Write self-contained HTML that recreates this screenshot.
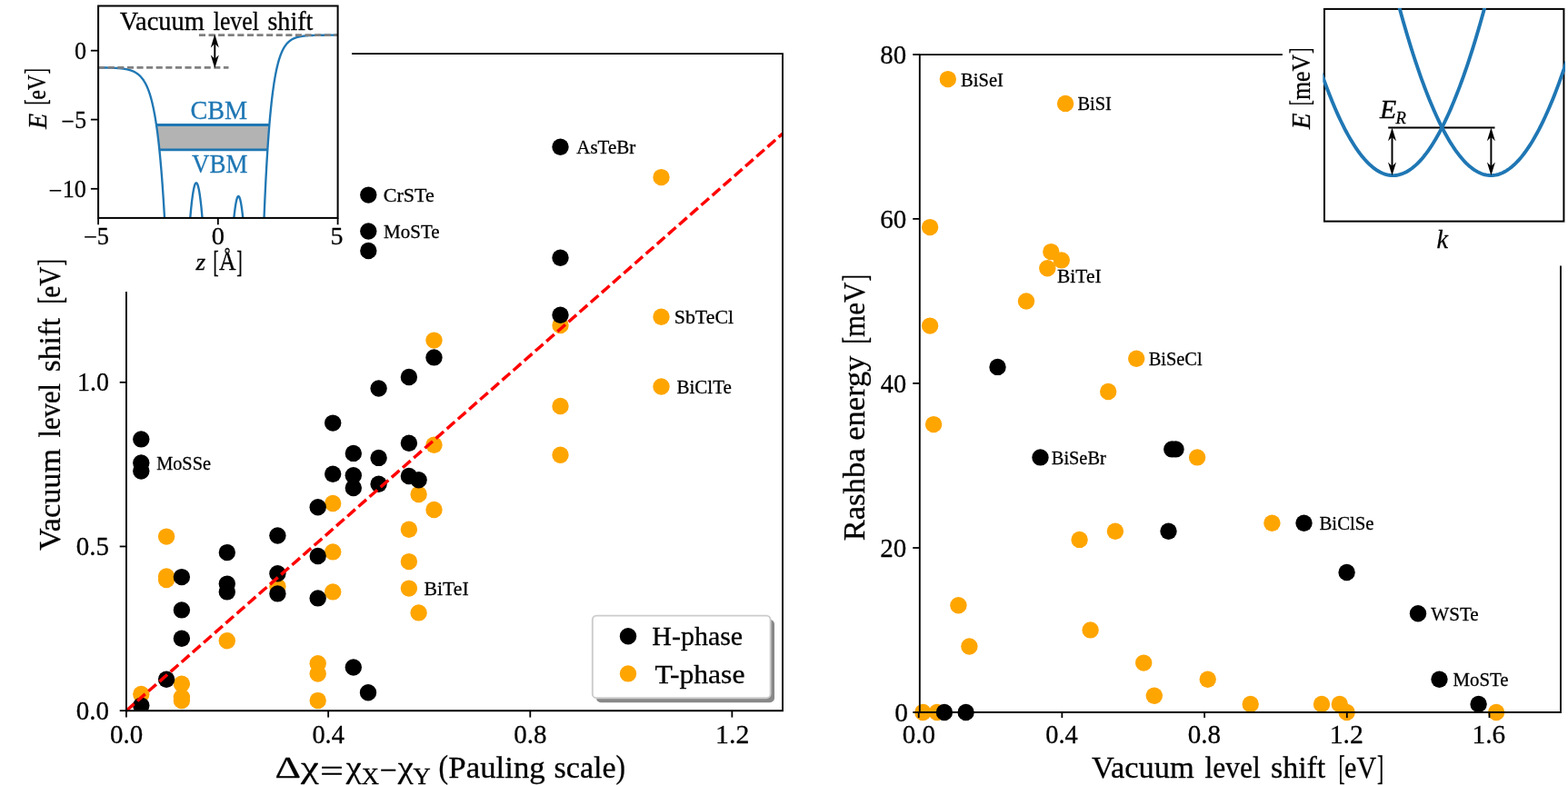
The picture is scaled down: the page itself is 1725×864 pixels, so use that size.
<!DOCTYPE html>
<html lang="en"><head><meta charset="utf-8"><title>Vacuum level shift and Rashba energy</title>
<style>
html,body{margin:0;padding:0;background:#fff;overflow:hidden}
svg{display:block}
text{font-family:"Liberation Serif", "DejaVu Serif", serif;stroke:#000;stroke-width:0.3px;stroke-linejoin:round}
</style></head>
<body>
<svg width="1725" height="864" viewBox="0 0 1725 864" role="img" aria-label="Vacuum level shift versus electronegativity difference, and Rashba energy versus vacuum level shift">
<rect width="1725" height="864" fill="#fff"/>
<clipPath id="cl"><rect x="138.95" y="59.15" width="722.05" height="723.05"/></clipPath>
<g clip-path="url(#cl)">
<g fill="#ffa500"><circle cx="155.3" cy="764.0" r="9.20"/><circle cx="183.1" cy="590.6" r="9.20"/><circle cx="183.1" cy="634.5" r="9.20"/><circle cx="183.1" cy="638.0" r="9.20"/><circle cx="199.9" cy="752.8" r="9.20"/><circle cx="199.9" cy="767.5" r="9.20"/><circle cx="199.9" cy="771.0" r="9.20"/><circle cx="249.8" cy="705.2" r="9.20"/><circle cx="305.4" cy="645.6" r="9.20"/><circle cx="349.7" cy="730.2" r="9.20"/><circle cx="349.7" cy="741.5" r="9.20"/><circle cx="349.7" cy="771.1" r="9.20"/><circle cx="366.2" cy="554.0" r="9.20"/><circle cx="366.2" cy="607.4" r="9.20"/><circle cx="366.2" cy="651.4" r="9.20"/><circle cx="449.9" cy="582.8" r="9.20"/><circle cx="449.9" cy="618.1" r="9.20"/><circle cx="449.9" cy="647.6" r="9.20"/><circle cx="460.6" cy="544.0" r="9.20"/><circle cx="460.6" cy="674.4" r="9.20"/><circle cx="477.5" cy="374.6" r="9.20"/><circle cx="477.5" cy="489.8" r="9.20"/><circle cx="477.5" cy="561.0" r="9.20"/><circle cx="616.5" cy="358.1" r="9.20"/><circle cx="616.5" cy="447.0" r="9.20"/><circle cx="616.5" cy="500.8" r="9.20"/><circle cx="727.5" cy="195.1" r="9.20"/><circle cx="727.5" cy="348.8" r="9.20"/><circle cx="727.5" cy="425.5" r="9.20"/></g>
<g fill="#000"><circle cx="155.3" cy="483.4" r="9.20"/><circle cx="155.3" cy="509.4" r="9.20"/><circle cx="155.3" cy="518.5" r="9.20"/><circle cx="155.3" cy="776.6" r="9.20"/><circle cx="183.1" cy="747.8" r="9.20"/><circle cx="199.9" cy="635.1" r="9.20"/><circle cx="199.9" cy="671.4" r="9.20"/><circle cx="199.9" cy="702.7" r="9.20"/><circle cx="249.8" cy="608.1" r="9.20"/><circle cx="249.8" cy="642.6" r="9.20"/><circle cx="249.8" cy="651.4" r="9.20"/><circle cx="305.4" cy="589.5" r="9.20"/><circle cx="305.4" cy="631.3" r="9.20"/><circle cx="305.4" cy="653.4" r="9.20"/><circle cx="349.7" cy="558.3" r="9.20"/><circle cx="349.7" cy="612.0" r="9.20"/><circle cx="349.7" cy="658.4" r="9.20"/><circle cx="366.2" cy="465.6" r="9.20"/><circle cx="366.2" cy="521.7" r="9.20"/><circle cx="388.8" cy="498.9" r="9.20"/><circle cx="388.8" cy="523.2" r="9.20"/><circle cx="388.8" cy="537.0" r="9.20"/><circle cx="388.8" cy="734.5" r="9.20"/><circle cx="405.3" cy="214.6" r="9.20"/><circle cx="405.3" cy="254.5" r="9.20"/><circle cx="405.3" cy="276.0" r="9.20"/><circle cx="405.0" cy="762.3" r="9.20"/><circle cx="416.6" cy="427.5" r="9.20"/><circle cx="416.6" cy="503.9" r="9.20"/><circle cx="416.6" cy="532.7" r="9.20"/><circle cx="449.9" cy="415.0" r="9.20"/><circle cx="449.9" cy="487.7" r="9.20"/><circle cx="449.9" cy="524.0" r="9.20"/><circle cx="460.6" cy="528.2" r="9.20"/><circle cx="477.5" cy="393.4" r="9.20"/><circle cx="616.5" cy="161.8" r="9.20"/><circle cx="616.5" cy="283.8" r="9.20"/><circle cx="616.5" cy="346.8" r="9.20"/></g>
</g>
<line x1="138.95" y1="782.20" x2="861.00" y2="147.00" stroke="#ff0000" stroke-width="3.45" stroke-dasharray="11.5 4.7" />
<path d="M138.95 321.00 V782.20 H861.00 V59.15 H387.00" fill="none" stroke="#000" stroke-width="1.85" stroke-linejoin="miter" stroke-linecap="butt"/>
<line x1="138.95" y1="782.20" x2="138.95" y2="789.60" stroke="#000" stroke-width="1.80"/>
<line x1="361.15" y1="782.20" x2="361.15" y2="789.60" stroke="#000" stroke-width="1.80"/>
<line x1="583.30" y1="782.20" x2="583.30" y2="789.60" stroke="#000" stroke-width="1.80"/>
<line x1="805.35" y1="782.20" x2="805.35" y2="789.60" stroke="#000" stroke-width="1.80"/>
<line x1="131.70" y1="782.20" x2="138.95" y2="782.20" stroke="#000" stroke-width="1.80"/>
<line x1="131.70" y1="601.45" x2="138.95" y2="601.45" stroke="#000" stroke-width="1.80"/>
<line x1="131.70" y1="420.80" x2="138.95" y2="420.80" stroke="#000" stroke-width="1.80"/>
<rect x="656.0" y="682.0" width="196.0" height="91.2" rx="5" fill="#888"/>
<rect x="651.8" y="677.6" width="195.8" height="90.6" rx="4.5" fill="#fff" stroke="#ccc" stroke-width="1.9"/>
<circle cx="691" cy="700.3" r="9.20" fill="#000"/>
<circle cx="691" cy="741.4" r="9.20" fill="#ffa500"/>
<rect x="108.10" y="6.50" width="263.50" height="233.40" fill="#fff"/>
<clipPath id="ci"><rect x="108.10" y="6.50" width="263.50" height="233.40"/></clipPath>
<g clip-path="url(#ci)">
<path d="M172.01 137.50 L172.37 139.98 L172.71 142.46 L173.05 144.95 L173.37 147.43 L173.68 149.91 L173.99 152.39 L174.28 154.87 L174.56 157.35 L174.84 159.84 L175.11 162.32 L175.37 164.80 L294.35 164.80 L294.51 162.32 L294.68 159.84 L294.85 157.35 L295.02 154.87 L295.20 152.39 L295.38 149.91 L295.56 147.43 L295.75 144.95 L295.95 142.46 L296.14 139.98 L296.35 137.50Z" fill="#b3b3b3"/>
<path d="M108.10 74.35 L108.10 74.42 L108.30 74.42 L108.49 74.42 L108.69 74.42 L108.88 74.42 L109.08 74.43 L109.27 74.43 L109.47 74.43 L109.66 74.43 L109.86 74.43 L110.05 74.43 L110.25 74.44 L110.44 74.44 L110.64 74.44 L110.83 74.44 L111.03 74.44 L111.22 74.44 L111.42 74.45 L111.61 74.45 L111.81 74.45 L112.00 74.45 L112.20 74.46 L112.40 74.46 L112.59 74.46 L112.79 74.46 L112.98 74.46 L113.18 74.47 L113.37 74.47 L113.57 74.47 L113.76 74.47 L113.96 74.48 L114.15 74.48 L114.35 74.48 L114.54 74.49 L114.74 74.49 L114.93 74.49 L115.13 74.49 L115.32 74.50 L115.52 74.50 L115.71 74.50 L115.91 74.51 L116.10 74.51 L116.30 74.51 L116.50 74.52 L116.69 74.52 L116.89 74.52 L117.08 74.53 L117.28 74.53 L117.47 74.53 L117.67 74.54 L117.86 74.54 L118.06 74.55 L118.25 74.55 L118.45 74.56 L118.64 74.56 L118.84 74.56 L119.03 74.57 L119.23 74.57 L119.42 74.58 L119.62 74.58 L119.81 74.59 L120.01 74.59 L120.20 74.60 L120.40 74.60 L120.60 74.61 L120.79 74.61 L120.99 74.62 L121.18 74.62 L121.38 74.63 L121.57 74.64 L121.77 74.64 L121.96 74.65 L122.16 74.66 L122.35 74.66 L122.55 74.67 L122.74 74.67 L122.94 74.68 L123.13 74.69 L123.33 74.70 L123.52 74.70 L123.72 74.71 L123.91 74.72 L124.11 74.73 L124.30 74.73 L124.50 74.74 L124.70 74.75 L124.89 74.76 L125.09 74.77 L125.28 74.78 L125.48 74.79 L125.67 74.79 L125.87 74.80 L126.06 74.81 L126.26 74.82 L126.45 74.83 L126.65 74.84 L126.84 74.85 L127.04 74.86 L127.23 74.88 L127.43 74.89 L127.62 74.90 L127.82 74.91 L128.01 74.92 L128.21 74.93 L128.40 74.95 L128.60 74.96 L128.80 74.97 L128.99 74.98 L129.19 75.00 L129.38 75.01 L129.58 75.02 L129.77 75.04 L129.97 75.05 L130.16 75.07 L130.36 75.08 L130.55 75.10 L130.75 75.11 L130.94 75.13 L131.14 75.15 L131.33 75.16 L131.53 75.18 L131.72 75.20 L131.92 75.22 L132.11 75.24 L132.31 75.25 L132.50 75.27 L132.70 75.29 L132.90 75.31 L133.09 75.33 L133.29 75.35 L133.48 75.37 L133.68 75.40 L133.87 75.42 L134.07 75.44 L134.26 75.46 L134.46 75.49 L134.65 75.51 L134.85 75.54 L135.04 75.56 L135.24 75.59 L135.43 75.61 L135.63 75.64 L135.82 75.67 L136.02 75.69 L136.21 75.72 L136.41 75.75 L136.60 75.78 L136.80 75.81 L137.00 75.84 L137.19 75.87 L137.39 75.91 L137.58 75.94 L137.78 75.97 L137.97 76.01 L138.17 76.04 L138.36 76.08 L138.56 76.11 L138.75 76.15 L138.95 76.19 L139.14 76.23 L139.34 76.27 L139.53 76.31 L139.73 76.35 L139.92 76.39 L140.12 76.43 L140.31 76.48 L140.51 76.52 L140.70 76.57 L140.90 76.62 L141.10 76.66 L141.29 76.71 L141.49 76.76 L141.68 76.81 L141.88 76.86 L142.07 76.92 L142.27 76.97 L142.46 77.03 L142.66 77.08 L142.85 77.14 L143.05 77.20 L143.24 77.26 L143.44 77.32 L143.63 77.38 L143.83 77.45 L144.02 77.51 L144.22 77.58 L144.41 77.65 L144.61 77.72 L144.80 77.79 L145.00 77.86 L145.20 77.94 L145.39 78.01 L145.59 78.09 L145.78 78.17 L145.98 78.25 L146.17 78.33 L146.37 78.42 L146.56 78.50 L146.76 78.59 L146.95 78.68 L147.15 78.77 L147.34 78.86 L147.54 78.96 L147.73 79.06 L147.93 79.16 L148.12 79.26 L148.32 79.36 L148.51 79.47 L148.71 79.57 L148.90 79.68 L149.10 79.80 L149.30 79.91 L149.49 80.03 L149.69 80.15 L149.88 80.27 L150.08 80.40 L150.27 80.52 L150.47 80.65 L150.66 80.79 L150.86 80.92 L151.05 81.06 L151.25 81.20 L151.44 81.35 L151.64 81.50 L151.83 81.65 L152.03 81.80 L152.22 81.96 L152.42 82.12 L152.61 82.28 L152.81 82.45 L153.00 82.62 L153.20 82.80 L153.40 82.97 L153.59 83.16 L153.79 83.34 L153.98 83.53 L154.18 83.72 L154.37 83.92 L154.57 84.12 L154.76 84.33 L154.96 84.54 L155.15 84.76 L155.35 84.98 L155.54 85.20 L155.74 85.43 L155.93 85.66 L156.13 85.90 L156.32 86.15 L156.52 86.40 L156.71 86.65 L156.91 86.91 L157.10 87.17 L157.30 87.44 L157.50 87.72 L157.69 88.00 L157.89 88.29 L158.08 88.59 L158.28 88.89 L158.47 89.19 L158.67 89.51 L158.86 89.83 L159.06 90.15 L159.25 90.49 L159.45 90.83 L159.64 91.17 L159.84 91.53 L160.03 91.89 L160.23 92.26 L160.42 92.64 L160.62 93.03 L160.81 93.42 L161.01 93.82 L161.20 94.23 L161.40 94.65 L161.60 95.08 L161.79 95.52 L161.99 95.97 L162.18 96.42 L162.38 96.89 L162.57 97.36 L162.77 97.85 L162.96 98.35 L163.16 98.85 L163.35 99.37 L163.55 99.90 L163.74 100.44 L163.94 100.99 L164.13 101.55 L164.33 102.12 L164.52 102.71 L164.72 103.31 L164.91 103.92 L165.11 104.54 L165.30 105.18 L165.50 105.83 L165.70 106.50 L165.89 107.17 L166.09 107.87 L166.28 108.57 L166.48 109.30 L166.67 110.03 L166.87 110.79 L167.06 111.56 L167.26 112.34 L167.45 113.14 L167.65 113.96 L167.84 114.80 L168.04 115.65 L168.23 116.52 L168.43 117.41 L168.62 118.32 L168.82 119.25 L169.01 120.20 L169.21 121.17 L169.40 122.15 L169.60 123.16 L169.80 124.19 L169.99 125.25 L170.19 126.32 L170.38 127.42 L170.58 128.54 L170.77 129.68 L170.97 130.85 L171.16 132.04 L171.36 133.26 L171.55 134.50 L171.75 135.77 L171.94 137.07 L172.14 138.39 L172.33 139.74 L172.53 141.12 L172.72 142.53 L172.92 143.97 L173.11 145.44 L173.31 146.94 L173.50 148.47 L173.70 150.04 L173.90 151.64 L174.09 153.27 L174.29 154.93 L174.48 156.63 L174.68 158.37 L174.87 160.14 L175.07 161.95 L175.26 163.80 L175.46 165.69 L175.65 167.62 L175.85 169.59 L176.04 171.60 L176.24 173.65 L176.43 175.75 L176.63 177.89 L176.82 180.07 L177.02 182.30 L177.21 184.58 L177.41 186.91 L177.60 189.28 L177.80 191.71 L178.00 194.18 L178.19 196.71 L178.39 199.30 L178.58 201.93 L178.78 204.63 L178.97 207.38 L179.17 210.18 L179.36 213.05 L179.56 215.98 L179.75 218.97 L179.95 222.02 L180.14 225.14 L180.34 228.32 L180.53 231.57 L180.73 234.89 L180.92 238.27 L181.12 241.73 L181.31 245.27 L181.51 248.87 L181.70 252.56 L181.90 256.32" fill="none" stroke="#1f77b4" stroke-width="2.35" stroke-linejoin="round"/>
<path d="M289.93 255.08 L290.15 249.35 L290.37 243.78 L290.59 238.35 L290.81 233.07 L291.03 227.93 L291.25 222.92 L291.46 218.05 L291.68 213.31 L291.90 208.69 L292.12 204.19 L292.34 199.81 L292.56 195.55 L292.78 191.40 L293.00 187.36 L293.22 183.43 L293.44 179.60 L293.66 175.87 L293.88 172.24 L294.10 168.71 L294.32 165.27 L294.54 161.92 L294.76 158.66 L294.98 155.48 L295.20 152.39 L295.42 149.38 L295.64 146.46 L295.86 143.60 L296.08 140.83 L296.29 138.13 L296.51 135.50 L296.73 132.93 L296.95 130.44 L297.17 128.01 L297.39 125.65 L297.61 123.35 L297.83 121.11 L298.05 118.93 L298.27 116.80 L298.49 114.74 L298.71 112.72 L298.93 110.77 L299.15 108.86 L299.37 107.00 L299.59 105.19 L299.81 103.43 L300.03 101.72 L300.25 100.05 L300.47 98.43 L300.69 96.85 L300.91 95.31 L301.12 93.81 L301.34 92.35 L301.56 90.93 L301.78 89.55 L302.00 88.20 L302.22 86.89 L302.44 85.61 L302.66 84.37 L302.88 83.16 L303.10 81.99 L303.32 80.84 L303.54 79.72 L303.76 78.64 L303.98 77.58 L304.20 76.55 L304.42 75.55 L304.64 74.57 L304.86 73.62 L305.08 72.70 L305.30 71.80 L305.52 70.92 L305.74 70.07 L305.95 69.24 L306.17 68.43 L306.39 67.64 L306.61 66.87 L306.83 66.13 L307.05 65.40 L307.27 64.69 L307.49 64.00 L307.71 63.33 L307.93 62.68 L308.15 62.04 L308.37 61.43 L308.59 60.82 L308.81 60.24 L309.03 59.67 L309.25 59.11 L309.47 58.57 L309.69 58.04 L309.91 57.53 L310.13 57.03 L310.35 56.54 L310.57 56.07 L310.78 55.61 L311.00 55.16 L311.22 54.72 L311.44 54.30 L311.66 53.89 L311.88 53.48 L312.10 53.09 L312.32 52.71 L312.54 52.34 L312.76 51.97 L312.98 51.62 L313.20 51.28 L313.42 50.94 L313.64 50.62 L313.86 50.30 L314.08 49.99 L314.30 49.69 L314.52 49.40 L314.74 49.12 L314.96 48.84 L315.18 48.57 L315.40 48.31 L315.62 48.05 L315.83 47.81 L316.05 47.56 L316.27 47.33 L316.49 47.10 L316.71 46.87 L316.93 46.66 L317.15 46.45 L317.37 46.24 L317.59 46.04 L317.81 45.84 L318.03 45.65 L318.25 45.47 L318.47 45.29 L318.69 45.11 L318.91 44.94 L319.13 44.77 L319.35 44.61 L319.57 44.45 L319.79 44.30 L320.01 44.15 L320.23 44.01 L320.45 43.86 L320.66 43.73 L320.88 43.59 L321.10 43.46 L321.32 43.33 L321.54 43.21 L321.76 43.09 L321.98 42.97 L322.20 42.86 L322.42 42.75 L322.64 42.64 L322.86 42.53 L323.08 42.43 L323.30 42.33 L323.52 42.23 L323.74 42.14 L323.96 42.05 L324.18 41.96 L324.40 41.87 L324.62 41.78 L324.84 41.70 L325.06 41.62 L325.28 41.54 L325.49 41.46 L325.71 41.39 L325.93 41.32 L326.15 41.25 L326.37 41.18 L326.59 41.11 L326.81 41.05 L327.03 40.98 L327.25 40.92 L327.47 40.86 L327.69 40.80 L327.91 40.75 L328.13 40.69 L328.35 40.64 L328.57 40.58 L328.79 40.53 L329.01 40.48 L329.23 40.43 L329.45 40.39 L329.67 40.34 L329.89 40.30 L330.11 40.25 L330.32 40.21 L330.54 40.17 L330.76 40.13 L330.98 40.09 L331.20 40.05 L331.42 40.02 L331.64 39.98 L331.86 39.94 L332.08 39.91 L332.30 39.88 L332.52 39.84 L332.74 39.81 L332.96 39.78 L333.18 39.75 L333.40 39.72 L333.62 39.69 L333.84 39.67 L334.06 39.64 L334.28 39.61 L334.50 39.59 L334.72 39.56 L334.94 39.54 L335.15 39.52 L335.37 39.49 L335.59 39.47 L335.81 39.45 L336.03 39.43 L336.25 39.41 L336.47 39.39 L336.69 39.37 L336.91 39.35 L337.13 39.33 L337.35 39.31 L337.57 39.29 L337.79 39.28 L338.01 39.26 L338.23 39.24 L338.45 39.23 L338.67 39.21 L338.89 39.20 L339.11 39.18 L339.33 39.17 L339.55 39.16 L339.77 39.14 L339.98 39.13 L340.20 39.12 L340.42 39.10 L340.64 39.09 L340.86 39.08 L341.08 39.07 L341.30 39.06 L341.52 39.05 L341.74 39.04 L341.96 39.03 L342.18 39.02 L342.40 39.01 L342.62 39.00 L342.84 38.99 L343.06 38.98 L343.28 38.97 L343.50 38.96 L343.72 38.95 L343.94 38.95 L344.16 38.94 L344.38 38.93 L344.60 38.92 L344.82 38.92 L345.03 38.91 L345.25 38.90 L345.47 38.90 L345.69 38.89 L345.91 38.88 L346.13 38.88 L346.35 38.87 L346.57 38.86 L346.79 38.86 L347.01 38.85 L347.23 38.85 L347.45 38.84 L347.67 38.84 L347.89 38.83 L348.11 38.83 L348.33 38.82 L348.55 38.82 L348.77 38.81 L348.99 38.81 L349.21 38.81 L349.43 38.80 L349.65 38.80 L349.86 38.79 L350.08 38.79 L350.30 38.79 L350.52 38.78 L350.74 38.78 L350.96 38.78 L351.18 38.77 L351.40 38.77 L351.62 38.77 L351.84 38.76 L352.06 38.76 L352.28 38.76 L352.50 38.75 L352.72 38.75 L352.94 38.75 L353.16 38.75 L353.38 38.74 L353.60 38.74 L353.82 38.74 L354.04 38.74 L354.26 38.73 L354.48 38.73 L354.69 38.73 L354.91 38.73 L355.13 38.73 L355.35 38.72 L355.57 38.72 L355.79 38.72 L356.01 38.72 L356.23 38.72 L356.45 38.71 L356.67 38.71 L356.89 38.71 L357.11 38.71 L357.33 38.71 L357.55 38.71 L357.77 38.70 L357.99 38.70 L358.21 38.70 L358.43 38.70 L358.65 38.70 L358.87 38.70 L359.09 38.70 L359.31 38.70 L359.52 38.69 L359.74 38.69 L359.96 38.69 L360.18 38.69 L360.40 38.69 L360.62 38.69 L360.84 38.69 L361.06 38.69 L361.28 38.69 L361.50 38.68 L361.72 38.68 L361.94 38.68 L362.16 38.68 L362.38 38.68 L362.60 38.68 L362.82 38.68 L363.04 38.68 L363.26 38.68 L363.48 38.68 L363.70 38.68 L363.92 38.68 L364.14 38.68 L364.35 38.67 L364.57 38.67 L364.79 38.67 L365.01 38.67 L365.23 38.67 L365.45 38.67 L365.67 38.67 L365.89 38.67 L366.11 38.67 L366.33 38.67 L366.55 38.67 L366.77 38.67 L366.99 38.67 L367.21 38.67 L367.43 38.67 L367.65 38.67 L367.87 38.67 L368.09 38.67 L368.31 38.67 L368.53 38.66 L368.75 38.66 L368.97 38.66 L369.18 38.66 L369.40 38.66 L369.62 38.66 L369.84 38.66 L370.06 38.66 L370.28 38.66 L370.50 38.66 L370.72 38.66 L370.94 38.66 L371.16 38.66 L371.38 38.66 L371.60 38.66 L371.60 38.65" fill="none" stroke="#1f77b4" stroke-width="2.35" stroke-linejoin="round"/>
<path d="M209.00 242.78 L209.23 240.08 L209.46 237.46 L209.69 234.94 L209.92 232.51 L210.14 230.17 L210.37 227.92 L210.60 225.76 L210.83 223.69 L211.06 221.72 L211.29 219.83 L211.52 218.04 L211.75 216.34 L211.97 214.73 L212.20 213.21 L212.43 211.78 L212.66 210.44 L212.89 209.20 L213.12 208.04 L213.35 206.98 L213.58 206.00 L213.81 205.12 L214.03 204.33 L214.26 203.64 L214.49 203.03 L214.72 202.51 L214.95 202.09 L215.18 201.75 L215.41 201.51 L215.64 201.36 L215.86 201.30 L216.09 201.33 L216.32 201.46 L216.55 201.67 L216.78 201.97 L217.01 202.37 L217.24 202.86 L217.47 203.44 L217.69 204.11 L217.92 204.87 L218.15 205.72 L218.38 206.66 L218.61 207.70 L218.84 208.83 L219.07 210.04 L219.30 211.35 L219.53 212.75 L219.75 214.24 L219.98 215.83 L220.21 217.50 L220.44 219.26 L220.67 221.12 L220.90 223.07 L221.13 225.11 L221.36 227.24 L221.58 229.46 L221.81 231.77 L222.04 234.17 L222.27 236.67 L222.50 239.26" fill="none" stroke="#1f77b4" stroke-width="2.35" stroke-linejoin="round"/>
<path d="M257.20 241.50 L257.37 239.81 L257.54 238.19 L257.71 236.62 L257.88 235.11 L258.06 233.66 L258.23 232.26 L258.40 230.92 L258.57 229.64 L258.74 228.42 L258.91 227.25 L259.08 226.14 L259.25 225.09 L259.43 224.10 L259.60 223.16 L259.77 222.29 L259.94 221.46 L260.11 220.70 L260.28 219.99 L260.45 219.35 L260.62 218.75 L260.79 218.22 L260.97 217.74 L261.14 217.33 L261.31 216.96 L261.48 216.66 L261.65 216.41 L261.82 216.22 L261.99 216.09 L262.16 216.02 L262.34 216.00 L262.51 216.04 L262.68 216.14 L262.85 216.30 L263.02 216.51 L263.19 216.78 L263.36 217.11 L263.53 217.49 L263.71 217.94 L263.88 218.44 L264.05 218.99 L264.22 219.61 L264.39 220.28 L264.56 221.01 L264.73 221.80 L264.90 222.64 L265.07 223.55 L265.25 224.51 L265.42 225.52 L265.59 226.60 L265.76 227.73 L265.93 228.92 L266.10 230.17 L266.27 231.47 L266.44 232.83 L266.62 234.25 L266.79 235.73 L266.96 237.27 L267.13 238.86 L267.30 240.51" fill="none" stroke="#1f77b4" stroke-width="2.35" stroke-linejoin="round"/>
<line x1="171.71" y1="137.50" x2="296.65" y2="137.50" stroke="#1f77b4" stroke-width="2.80"/>
<line x1="175.07" y1="164.80" x2="294.65" y2="164.80" stroke="#1f77b4" stroke-width="2.80"/>
<line x1="108.10" y1="74.35" x2="251.5" y2="74.35" stroke="#808080" stroke-width="2.8" stroke-dasharray="7.1 3.5"/>
<line x1="218.9" y1="38.6" x2="371.60" y2="38.6" stroke="#808080" stroke-width="2.8" stroke-dasharray="7.1 3.5"/>
</g>
<line x1="236.30" y1="47.50" x2="236.30" y2="65.30" stroke="#000" stroke-width="1.95"/><path d="M236.30 37.60 L240.80 52.40 L236.30 48.00 L231.80 52.40 Z" fill="#000"/><path d="M236.30 75.20 L240.80 60.40 L236.30 64.80 L231.80 60.40 Z" fill="#000"/>
<rect x="108.10" y="6.50" width="263.50" height="233.40" fill="none" stroke="#000" stroke-width="2.00"/>
<line x1="108.10" y1="239.90" x2="108.10" y2="247.30" stroke="#000" stroke-width="1.80"/>
<line x1="239.85" y1="239.90" x2="239.85" y2="247.30" stroke="#000" stroke-width="1.80"/>
<line x1="371.60" y1="239.90" x2="371.60" y2="247.30" stroke="#000" stroke-width="1.80"/>
<line x1="99.90" y1="55.70" x2="108.10" y2="55.70" stroke="#000" stroke-width="1.80"/>
<line x1="99.90" y1="131.60" x2="108.10" y2="131.60" stroke="#000" stroke-width="1.80"/>
<line x1="99.90" y1="207.80" x2="108.10" y2="207.80" stroke="#000" stroke-width="1.80"/>
<g fill="#ffa500"><circle cx="1042.8" cy="87.1" r="9.20"/><circle cx="1172.1" cy="113.9" r="9.20"/><circle cx="1023.1" cy="250.1" r="9.20"/><circle cx="1156.3" cy="277.1" r="9.20"/><circle cx="1167.8" cy="286.4" r="9.20"/><circle cx="1152.3" cy="295.2" r="9.20"/><circle cx="1129.0" cy="331.5" r="9.20"/><circle cx="1023.1" cy="358.6" r="9.20"/><circle cx="1250.2" cy="394.8" r="9.20"/><circle cx="1219.2" cy="431.0" r="9.20"/><circle cx="1027.1" cy="467.1" r="9.20"/><circle cx="1317.1" cy="503.4" r="9.20"/><circle cx="1187.6" cy="593.9" r="9.20"/><circle cx="1226.9" cy="584.8" r="9.20"/><circle cx="1399.4" cy="575.8" r="9.20"/><circle cx="1054.4" cy="666.3" r="9.20"/><circle cx="1066.4" cy="711.5" r="9.20"/><circle cx="1199.6" cy="693.4" r="9.20"/><circle cx="1258.2" cy="729.6" r="9.20"/><circle cx="1269.8" cy="765.8" r="9.20"/><circle cx="1328.7" cy="747.7" r="9.20"/><circle cx="1375.7" cy="774.9" r="9.20"/><circle cx="1454.0" cy="774.9" r="9.20"/><circle cx="1473.8" cy="774.9" r="9.20"/><circle cx="1481.6" cy="784.0" r="9.20"/><circle cx="1646.1" cy="784.0" r="9.20"/><circle cx="1015.3" cy="784.0" r="9.20"/><circle cx="1030.8" cy="784.0" r="9.20"/></g>
<g fill="#000"><circle cx="1097.5" cy="403.9" r="9.20"/><circle cx="1144.5" cy="503.4" r="9.20"/><circle cx="1289.3" cy="494.4" r="9.20"/><circle cx="1293.5" cy="494.4" r="9.20"/><circle cx="1285.5" cy="584.8" r="9.20"/><circle cx="1434.5" cy="575.8" r="9.20"/><circle cx="1481.6" cy="630.0" r="9.20"/><circle cx="1560.0" cy="675.3" r="9.20"/><circle cx="1583.5" cy="747.7" r="9.20"/><circle cx="1626.6" cy="774.9" r="9.20"/><circle cx="1038.9" cy="784.0" r="9.20"/><circle cx="1062.6" cy="784.0" r="9.20"/></g>
<path d="M1410.90 60.05 H1011.80 V784.00 H1716.95 V292.60" fill="none" stroke="#000" stroke-width="1.85" stroke-linecap="butt"/>
<line x1="1010.70" y1="784.00" x2="1010.70" y2="790.10" stroke="#000" stroke-width="1.80"/>
<line x1="1168.35" y1="784.00" x2="1168.35" y2="790.10" stroke="#000" stroke-width="1.80"/>
<line x1="1325.10" y1="784.00" x2="1325.10" y2="790.10" stroke="#000" stroke-width="1.80"/>
<line x1="1481.80" y1="784.00" x2="1481.80" y2="790.10" stroke="#000" stroke-width="1.80"/>
<line x1="1638.50" y1="784.00" x2="1638.50" y2="790.10" stroke="#000" stroke-width="1.80"/>
<line x1="1004.20" y1="60.05" x2="1011.80" y2="60.05" stroke="#000" stroke-width="1.80"/>
<line x1="1004.20" y1="240.90" x2="1011.80" y2="240.90" stroke="#000" stroke-width="1.80"/>
<line x1="1004.20" y1="421.90" x2="1011.80" y2="421.90" stroke="#000" stroke-width="1.80"/>
<line x1="1004.20" y1="603.00" x2="1011.80" y2="603.00" stroke="#000" stroke-width="1.80"/>
<line x1="1004.20" y1="784.00" x2="1011.80" y2="784.00" stroke="#000" stroke-width="1.80"/>
<rect x="1456.95" y="9.90" width="263.45" height="233.70" fill="#fff"/>
<clipPath id="cj"><rect x="1455.35" y="9.00" width="266.65" height="235.50"/></clipPath>
<line x1="1527.20" y1="140.50" x2="1644.50" y2="140.50" stroke="#000" stroke-width="2.00"/>
<rect x="1456.95" y="9.90" width="263.45" height="233.70" fill="none" stroke="#000" stroke-width="2.00"/>
<g clip-path="url(#cj)">
<path d="M1453.95 80.93 L1455.64 85.72 L1457.34 90.40 L1459.03 94.98 L1460.73 99.45 L1462.42 103.82 L1464.12 108.09 L1465.81 112.25 L1467.51 116.31 L1469.20 120.26 L1470.90 124.11 L1472.59 127.85 L1474.29 131.49 L1475.98 135.02 L1477.68 138.46 L1479.37 141.78 L1481.06 145.00 L1482.76 148.12 L1484.45 151.13 L1486.15 154.04 L1487.84 156.84 L1489.54 159.54 L1491.23 162.14 L1492.93 164.63 L1494.62 167.02 L1496.32 169.30 L1498.01 171.48 L1499.71 173.55 L1501.40 175.52 L1503.09 177.38 L1504.79 179.14 L1506.48 180.80 L1508.18 182.35 L1509.87 183.79 L1511.57 185.13 L1513.26 186.37 L1514.96 187.51 L1516.65 188.53 L1518.35 189.46 L1520.04 190.28 L1521.74 190.99 L1523.43 191.60 L1525.13 192.11 L1526.82 192.51 L1528.51 192.81 L1530.21 193.00 L1531.90 193.09 L1533.60 193.08 L1535.29 192.96 L1536.99 192.73 L1538.68 192.41 L1540.38 191.97 L1542.07 191.43 L1543.77 190.79 L1545.46 190.05 L1547.16 189.19 L1548.85 188.24 L1550.55 187.18 L1552.24 186.02 L1553.93 184.75 L1555.63 183.37 L1557.32 181.90 L1559.02 180.32 L1560.71 178.63 L1562.41 176.84 L1564.10 174.94 L1565.80 172.94 L1567.49 170.84 L1569.19 168.63 L1570.88 166.32 L1572.58 163.90 L1574.27 161.38 L1575.97 158.75 L1577.66 156.02 L1579.35 153.19 L1581.05 150.25 L1582.74 147.21 L1584.44 144.06 L1586.13 140.81 L1587.83 137.45 L1589.52 133.99 L1591.22 130.42 L1592.91 126.75 L1594.61 122.98 L1596.30 119.10 L1598.00 115.11 L1599.69 111.03 L1601.38 106.83 L1603.08 102.54 L1604.77 98.14 L1606.47 93.63 L1608.16 89.02 L1609.86 84.31 L1611.55 79.49 L1613.25 74.56 L1614.94 69.54 L1616.64 64.40 L1618.33 59.17 L1620.03 53.83 L1621.72 48.38 L1623.42 42.83 L1625.11 37.18 L1626.80 31.42 L1628.50 25.56 L1630.19 19.59 L1631.89 13.52 L1633.58 7.34 L1635.28 1.06 L1636.97 -5.33 L1638.67 -11.82 L1640.36 -18.41 L1642.06 -25.11 L1643.75 -31.91 L1645.45 -38.82 L1647.14 -45.83 L1648.84 -52.95 L1650.53 -60.17 L1652.22 -67.49 L1653.92 -74.92 L1655.61 -82.45 L1657.31 -90.09 L1659.00 -97.84 L1660.70 -105.68 L1662.39 -113.63 L1664.09 -121.69 L1665.78 -129.85 L1667.48 -138.11 L1669.17 -146.48 L1670.87 -154.96 L1672.56 -163.54 L1674.26 -172.22 L1675.95 -181.00 L1677.64 -189.90 L1679.34 -198.89 L1681.03 -207.99 L1682.73 -217.20 L1684.42 -226.51 L1686.12 -235.92 L1687.81 -245.44 L1689.51 -255.06 L1691.20 -264.78 L1692.90 -274.62 L1694.59 -284.55 L1696.29 -294.59 L1697.98 -304.74 L1699.67 -314.98 L1701.37 -325.34 L1703.06 -335.79 L1704.76 -346.36 L1706.45 -357.02 L1708.15 -367.79 L1709.84 -378.67 L1711.54 -389.65 L1713.23 -400.73 L1714.93 -411.92 L1716.62 -423.21 L1718.32 -434.61 L1720.01 -446.11 L1721.71 -457.72 L1723.40 -469.43" fill="none" stroke="#1f77b4" stroke-width="3.9"/>
<path d="M1453.95 -438.22 L1455.64 -426.79 L1457.34 -415.47 L1459.03 -404.25 L1460.73 -393.13 L1462.42 -382.12 L1464.12 -371.21 L1465.81 -360.41 L1467.51 -349.71 L1469.20 -339.11 L1470.90 -328.62 L1472.59 -318.24 L1474.29 -307.95 L1475.98 -297.78 L1477.68 -287.70 L1479.37 -277.74 L1481.06 -267.87 L1482.76 -258.11 L1484.45 -248.46 L1486.15 -238.91 L1487.84 -229.46 L1489.54 -220.12 L1491.23 -210.88 L1492.93 -201.75 L1494.62 -192.72 L1496.32 -183.79 L1498.01 -174.98 L1499.71 -166.26 L1501.40 -157.65 L1503.09 -149.14 L1504.79 -140.74 L1506.48 -132.44 L1508.18 -124.25 L1509.87 -116.16 L1511.57 -108.18 L1513.26 -100.30 L1514.96 -92.52 L1516.65 -84.85 L1518.35 -77.28 L1520.04 -69.82 L1521.74 -62.46 L1523.43 -55.21 L1525.13 -48.06 L1526.82 -41.02 L1528.51 -34.08 L1530.21 -27.24 L1531.90 -20.51 L1533.60 -13.88 L1535.29 -7.36 L1536.99 -0.94 L1538.68 5.37 L1540.38 11.58 L1542.07 17.69 L1543.77 23.69 L1545.46 29.58 L1547.16 35.37 L1548.85 41.06 L1550.55 46.64 L1552.24 52.12 L1553.93 57.50 L1555.63 62.77 L1557.32 67.93 L1559.02 72.99 L1560.71 77.95 L1562.41 82.80 L1564.10 87.55 L1565.80 92.19 L1567.49 96.73 L1569.19 101.16 L1570.88 105.49 L1572.58 109.72 L1574.27 113.84 L1575.97 117.85 L1577.66 121.77 L1579.35 125.57 L1581.05 129.28 L1582.74 132.87 L1584.44 136.37 L1586.13 139.76 L1587.83 143.04 L1589.52 146.23 L1591.22 149.30 L1592.91 152.27 L1594.61 155.14 L1596.30 157.91 L1598.00 160.56 L1599.69 163.12 L1601.38 165.57 L1603.08 167.91 L1604.77 170.16 L1606.47 172.29 L1608.16 174.32 L1609.86 176.25 L1611.55 178.08 L1613.25 179.80 L1614.94 181.41 L1616.64 182.92 L1618.33 184.33 L1620.03 185.63 L1621.72 186.82 L1623.42 187.92 L1625.11 188.91 L1626.80 189.79 L1628.50 190.57 L1630.19 191.24 L1631.89 191.81 L1633.58 192.28 L1635.28 192.64 L1636.97 192.90 L1638.67 193.05 L1640.36 193.10 L1642.06 193.04 L1643.75 192.88 L1645.45 192.62 L1647.14 192.25 L1648.84 191.78 L1650.53 191.20 L1652.22 190.51 L1653.92 189.73 L1655.61 188.84 L1657.31 187.84 L1659.00 186.74 L1660.70 185.54 L1662.39 184.23 L1664.09 182.81 L1665.78 181.30 L1667.48 179.67 L1669.17 177.95 L1670.87 176.12 L1672.56 174.18 L1674.26 172.14 L1675.95 170.00 L1677.64 167.75 L1679.34 165.39 L1681.03 162.94 L1682.73 160.37 L1684.42 157.71 L1686.12 154.94 L1687.81 152.06 L1689.51 149.08 L1691.20 146.00 L1692.90 142.81 L1694.59 139.51 L1696.29 136.12 L1697.98 132.62 L1699.67 129.01 L1701.37 125.30 L1703.06 121.48 L1704.76 117.56 L1706.45 113.54 L1708.15 109.41 L1709.84 105.18 L1711.54 100.84 L1713.23 96.40 L1714.93 91.85 L1716.62 87.20 L1718.32 82.45 L1720.01 77.59 L1721.71 72.62 L1723.40 67.56" fill="none" stroke="#1f77b4" stroke-width="3.9"/>
</g>
<line x1="1531.50" y1="150.30" x2="1531.50" y2="183.40" stroke="#000" stroke-width="1.95"/><path d="M1531.50 140.40 L1536.00 155.20 L1531.50 150.80 L1527.00 155.20 Z" fill="#000"/><path d="M1531.50 193.30 L1536.00 178.50 L1531.50 182.90 L1527.00 178.50 Z" fill="#000"/>
<line x1="1640.40" y1="150.30" x2="1640.40" y2="183.40" stroke="#000" stroke-width="1.95"/><path d="M1640.40 140.40 L1644.90 155.20 L1640.40 150.80 L1635.90 155.20 Z" fill="#000"/><path d="M1640.40 193.30 L1644.90 178.50 L1640.40 182.90 L1635.90 178.50 Z" fill="#000"/>
<g id="labels">
<text transform="translate(121.01 818.33) scale(0.9361 0.9412)" font-size="31" xml:space="preserve">0.0</text>
<text transform="translate(343.38 818.33) scale(0.9173 0.9412)" font-size="31" xml:space="preserve">0.4</text>
<text transform="translate(565.36 818.33) scale(0.9361 0.9412)" font-size="31" xml:space="preserve">0.8</text>
<text transform="translate(787.10 818.33) scale(0.9612 0.9412)" font-size="31" xml:space="preserve">1.2</text>
<text transform="translate(83.76 791.88) scale(0.9361 0.9412)" font-size="31" xml:space="preserve">0.0</text>
<text transform="translate(83.76 611.13) scale(0.9361 0.9412)" font-size="31" xml:space="preserve">0.5</text>
<text transform="translate(85.04 430.48) scale(0.9021 0.9412)" font-size="31" xml:space="preserve">1.0</text>
<text transform="translate(302.50 855.80) scale(1.2800 1.0000)" font-size="34.6" xml:space="preserve">Δχ</text><text transform="translate(352.00 859.60) scale(1.3333 1.0000)" font-size="34.6" xml:space="preserve">=</text><text transform="translate(380.87 855.80) scale(1.0992 1.0000)" font-size="34.6" xml:space="preserve">χ<tspan font-size="24.22" dy="6.8">X</tspan></text><text transform="translate(417.43 859.20) scale(0.9818 1.0000)" font-size="34.6" xml:space="preserve">−</text><text transform="translate(437.67 855.80) scale(1.0992 1.0000)" font-size="34.6" xml:space="preserve">χ<tspan font-size="24.22" dy="6.8">Y</tspan></text>
<text transform="translate(482.55 856.04) scale(0.9189 1.0079)" font-size="34.6" xml:space="preserve">(</text><text transform="translate(493.34 856.00) scale(1.0067 1.0000)" font-size="34.6" xml:space="preserve">Pauling</text>
<text transform="translate(609.57 856.00) scale(0.9843 1.0000)" font-size="34.6" xml:space="preserve">scale</text><text transform="translate(677.49 855.98) scale(0.9081 1.0159)" font-size="34.6" xml:space="preserve">)</text>
<text transform="translate(66.00 606.05) rotate(-90) scale(0.9898 1.0000)" font-size="34.6" xml:space="preserve">Vacuum</text>
<text transform="translate(66.00 481.44) rotate(-90) scale(0.8845 1.0000)" font-size="34.6" xml:space="preserve">level</text>
<text transform="translate(66.00 409.21) rotate(-90) scale(0.9643 1.0000)" font-size="34.6" xml:space="preserve">shift</text>
<text transform="translate(67.80 334.36) rotate(-90) scale(0.6250 1.0957)" font-size="34.6" xml:space="preserve">[</text><text transform="translate(66.00 327.66) rotate(-90) scale(0.8490 1.0000)" font-size="34.6" xml:space="preserve">eV</text><text transform="translate(67.80 292.52) rotate(-90) scale(0.6250 1.0957)" font-size="34.6" xml:space="preserve">]</text>
<text transform="translate(172.13 516.95) scale(0.9462 1.0000)" font-size="21.5" xml:space="preserve">MoSSe</text>
<text transform="translate(421.83 222.15) scale(1.0254 1.0000)" font-size="21.5" xml:space="preserve">CrSTe</text>
<text transform="translate(422.11 262.05) scale(0.9774 1.0000)" font-size="21.5" xml:space="preserve">MoSTe</text>
<text transform="translate(634.20 169.45) scale(0.9789 1.0000)" font-size="21.5" xml:space="preserve">AsTeBr</text>
<text transform="translate(741.73 356.35) scale(1.0183 1.0000)" font-size="21.5" xml:space="preserve">SbTeCl</text>
<text transform="translate(744.51 433.05) scale(0.9778 1.0000)" font-size="21.5" xml:space="preserve">BiClTe</text>
<text transform="translate(466.39 655.15) scale(1.0126 1.0000)" font-size="21.5" xml:space="preserve">BiTeI</text>
<text transform="translate(717.34 710.20) scale(1.0192 1.0000)" font-size="29.4" xml:space="preserve">H-phase</text>
<text transform="translate(720.46 751.60) scale(1.0762 1.0000)" font-size="29.4" xml:space="preserve">T-phase</text>
<text transform="translate(131.75 33.20) scale(0.9941 1.0000)" font-size="28.6" xml:space="preserve">Vacuum</text>
<text transform="translate(234.75 33.20) scale(0.9023 1.0000)" font-size="28.6" xml:space="preserve">level</text>
<text transform="translate(294.42 33.20) scale(0.9829 1.0000)" font-size="28.6" xml:space="preserve">shift</text>
<text transform="translate(209.41 131.00) scale(0.9862 1.0000)" font-size="28.6" style="fill:#1f77b4;stroke:#1f77b4" xml:space="preserve">CBM</text>
<text transform="translate(211.06 189.60) scale(0.9416 1.0000)" font-size="28.6" style="fill:#1f77b4;stroke:#1f77b4" xml:space="preserve">VBM</text>
<text transform="translate(82.01 65.20) scale(0.8941 0.9475)" font-size="29.3" xml:space="preserve">0</text>
<text transform="translate(67.60 141.10) scale(0.8793 0.9595)" font-size="29.3" xml:space="preserve"><tspan dy="1.6">−</tspan><tspan dy="-1.6">5</tspan></text>
<text transform="translate(53.78 217.30) scale(0.8989 0.9475)" font-size="29.3" xml:space="preserve"><tspan dy="1.6">−</tspan><tspan dy="-1.6">10</tspan></text>
<text transform="translate(91.88 268.84) scale(0.9000 0.9266)" font-size="29.3" xml:space="preserve"><tspan dy="1.6">−</tspan><tspan dy="-1.6">5</tspan></text>
<text transform="translate(232.83 268.83) scale(0.9725 0.9475)" font-size="29.3" xml:space="preserve">0</text>
<text transform="translate(363.57 268.84) scale(0.9551 0.9266)" font-size="29.3" xml:space="preserve">5</text>
<text transform="translate(215.38 297.00) scale(0.9511 0.9132)" font-size="28.6" xml:space="preserve"><tspan font-style="italic">z</tspan></text>
<text transform="translate(234.50 299.03) scale(0.6487 1.1417)" font-size="28.6" xml:space="preserve">[</text><text transform="translate(241.01 296.80) scale(0.8995 1.0000)" font-size="28.6" xml:space="preserve">Å</text><text transform="translate(260.35 299.03) scale(0.6737 1.1417)" font-size="28.6" xml:space="preserve">]</text>
<text transform="translate(50.70 142.11) rotate(-90) scale(0.9803 1.0000)" font-size="28.6" xml:space="preserve"><tspan font-style="italic">E</tspan></text>
<text transform="translate(49.98 115.50) rotate(-90) scale(0.6487 1.1542)" font-size="28.6" xml:space="preserve">[</text><text transform="translate(49.50 109.59) rotate(-90) scale(0.8191 1.0000)" font-size="28.6" xml:space="preserve">eV</text><text transform="translate(49.98 81.45) rotate(-90) scale(0.6737 1.1542)" font-size="28.6" xml:space="preserve">]</text>
<text transform="translate(992.76 818.13) scale(0.9361 0.9412)" font-size="31" xml:space="preserve">0.0</text>
<text transform="translate(1150.28 818.13) scale(0.9173 0.9412)" font-size="31" xml:space="preserve">0.4</text>
<text transform="translate(1306.86 818.13) scale(0.9361 0.9412)" font-size="31" xml:space="preserve">0.8</text>
<text transform="translate(1462.70 818.13) scale(0.9612 0.9412)" font-size="31" xml:space="preserve">1.2</text>
<text transform="translate(1619.55 818.13) scale(0.9408 0.9412)" font-size="31" xml:space="preserve">1.6</text>
<text transform="translate(968.37 69.53) scale(0.9276 0.9412)" font-size="31" xml:space="preserve">80</text>
<text transform="translate(968.13 250.63) scale(0.9357 0.9412)" font-size="31" xml:space="preserve">60</text>
<text transform="translate(968.84 431.73) scale(0.9119 0.9412)" font-size="31" xml:space="preserve">40</text>
<text transform="translate(968.13 612.83) scale(0.9357 0.9412)" font-size="31" xml:space="preserve">20</text>
<text transform="translate(984.25 793.83) scale(0.9481 0.9412)" font-size="31" xml:space="preserve">0</text>
<text transform="translate(1200.95 855.80) scale(0.9942 1.0000)" font-size="34.6" xml:space="preserve">Vacuum</text>
<text transform="translate(1325.55 855.80) scale(0.9087 1.0000)" font-size="34.6" xml:space="preserve">level</text>
<text transform="translate(1397.97 855.80) scale(0.9809 1.0000)" font-size="34.6" xml:space="preserve">shift</text>
<text transform="translate(1472.44 857.60) scale(0.6250 1.0957)" font-size="34.6" xml:space="preserve">[</text><text transform="translate(1479.11 855.80) scale(0.8697 1.0000)" font-size="34.6" xml:space="preserve">eV</text><text transform="translate(1515.08 857.60) scale(0.6250 1.0957)" font-size="34.6" xml:space="preserve">]</text>
<text transform="translate(950.70 595.35) rotate(-90) scale(1.0015 1.0000)" font-size="34.6" xml:space="preserve">Rashba</text>
<text transform="translate(950.70 484.75) rotate(-90) scale(0.9973 1.0000)" font-size="34.6" xml:space="preserve">energy</text>
<text transform="translate(952.50 378.26) rotate(-90) scale(0.6250 1.0957)" font-size="34.6" xml:space="preserve">[</text><text transform="translate(950.70 370.95) rotate(-90) scale(0.8992 1.0000)" font-size="34.6" xml:space="preserve">meV</text><text transform="translate(952.50 309.52) rotate(-90) scale(0.6250 1.0957)" font-size="34.6" xml:space="preserve">]</text>
<text transform="translate(1057.12 94.55) scale(0.9550 1.0000)" font-size="21.5" xml:space="preserve">BiSeI</text>
<text transform="translate(1185.43 121.35) scale(0.9490 1.0000)" font-size="21.5" xml:space="preserve">BiSI</text>
<text transform="translate(1163.10 310.75) scale(0.9958 1.0000)" font-size="21.5" xml:space="preserve">BiTeI</text>
<text transform="translate(1263.73 402.25) scale(0.9486 1.0000)" font-size="21.5" xml:space="preserve">BiSeCl</text>
<text transform="translate(1156.83 510.85) scale(0.9466 1.0000)" font-size="21.5" xml:space="preserve">BiSeBr</text>
<text transform="translate(1451.52 583.25) scale(0.9656 1.0000)" font-size="21.5" xml:space="preserve">BiClSe</text>
<text transform="translate(1574.25 682.75) scale(0.9830 1.0000)" font-size="21.5" xml:space="preserve">WSTe</text>
<text transform="translate(1598.52 755.15) scale(0.9694 1.0000)" font-size="21.5" xml:space="preserve">MoSTe</text>
<text transform="translate(1441.10 142.29) rotate(-90) scale(1.0197 1.0000)" font-size="28.6" xml:space="preserve"><tspan font-style="italic">E</tspan></text>
<text transform="translate(1441.43 116.30) rotate(-90) scale(0.6487 1.1167)" font-size="28.6" xml:space="preserve">[</text><text transform="translate(1441.10 110.02) rotate(-90) scale(0.9039 1.0000)" font-size="28.6" xml:space="preserve">meV</text><text transform="translate(1441.43 58.95) rotate(-90) scale(0.6737 1.1167)" font-size="28.6" xml:space="preserve">]</text>
<text transform="translate(1580.56 272.60) scale(0.9840 1.0000)" font-size="28.6" xml:space="preserve"><tspan font-style="italic">k</tspan></text>
<text transform="translate(1517.92 129.90) scale(1.0423 1.0000)" font-size="28.6" xml:space="preserve"><tspan font-style="italic">E</tspan></text><text transform="translate(1535.55 136.20) scale(0.9826 1.0000)" font-size="18.876" xml:space="preserve"><tspan font-style="italic">R</tspan></text>
</g>
</svg>
</body></html>
